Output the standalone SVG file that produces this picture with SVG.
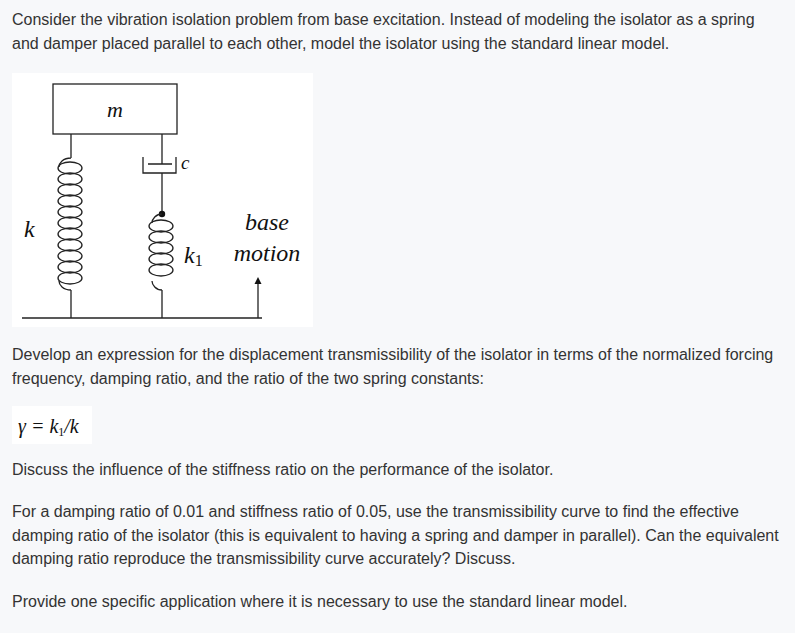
<svg xmlns="http://www.w3.org/2000/svg" width="795" height="633" viewBox="0 0 795 633">
<style>
.t{font-family:"Liberation Sans",Arial,sans-serif;font-size:16px;fill:#333}
.m{font-family:"Liberation Serif","Times New Roman",serif;font-style:italic;fill:#111}
.l{stroke:#222;stroke-width:1.3;fill:none}
</style>
<defs>
<g id="coil"><ellipse cx="0" cy="0" rx="12" ry="6" class="l"/></g>
</defs>
<rect width="795" height="633" fill="#f7f8fa"/>
<g id="text">
<text class="t" x="12" y="25">Consider the vibration isolation problem from base excitation. Instead of modeling the isolator as a spring</text>
<text class="t" x="12" y="49">and damper placed parallel to each other, model the isolator using the standard linear model.</text>
<text class="t" x="12" y="360">Develop an expression for the displacement transmissibility of the isolator in terms of the normalized forcing</text>
<text class="t" x="12" y="384">frequency, damping ratio, and the ratio of the two spring constants:</text>
<text class="t" x="12" y="475">Discuss the influence of the stiffness ratio on the performance of the isolator.</text>
<text class="t" x="12" y="517">For a damping ratio of 0.01 and stiffness ratio of 0.05, use the transmissibility curve to find the effective</text>
<text class="t" x="12" y="541">damping ratio of the isolator (this is equivalent to having a spring and damper in parallel). Can the equivalent</text>
<text class="t" x="12" y="564">damping ratio reproduce the transmissibility curve accurately? Discuss.</text>
<text class="t" x="12" y="607">Provide one specific application where it is necessary to use the standard linear model.</text>
</g>
<g id="gamma">
<rect x="12" y="406" width="80" height="38" fill="#fff"/>
<text class="m" x="18" y="433" font-size="20">γ = k<tspan font-size="12" dy="3" font-style="normal">1</tspan><tspan dy="-3">/k</tspan></text>
</g>
<g id="figure">
<rect x="12" y="73" width="301" height="254" fill="#fff"/>
</g>
<g id="mass"><rect x="53" y="84" width="124" height="50" class="l" fill="#fff"/>
<text class="m" x="115" y="117" font-size="22" text-anchor="middle">m</text></g>
<g id="springK">
<path class="l" d="M71 134V158M71 158c-8 0-12 5-12 9M71 290c-8 0-12-5-12-9M71 290V318"/>
<use href="#coil" x="70" y="168"/><use href="#coil" x="70" y="179"/><use href="#coil" x="70" y="190"/><use href="#coil" x="70" y="201"/><use href="#coil" x="70" y="212"/><use href="#coil" x="70" y="223"/><use href="#coil" x="70" y="234"/><use href="#coil" x="70" y="245"/><use href="#coil" x="70" y="256"/><use href="#coil" x="70" y="267"/><use href="#coil" x="70" y="278"/>
<text class="m" x="24" y="237" font-size="24">k</text></g>
<g id="damper"><path class="l" d="M162 134V164M148 164H172M143 157V173H176V157M162 173V214"/>
<text class="m" x="181" y="169" font-size="19">c</text></g>
<g id="springK1">
<circle cx="162" cy="214" r="3.2" fill="#111"/>
<path class="l" d="M162 214c-6 0-10 5-10 9M162 290c-6 0-10-5-10-9M162 290V318"/>
<use href="#coil" x="161" y="226"/><use href="#coil" x="161" y="237"/><use href="#coil" x="161" y="248"/><use href="#coil" x="161" y="259"/><use href="#coil" x="161" y="270"/>
<text class="m" x="184" y="263" font-size="24">k<tspan font-size="16" font-style="normal" dy="3">1</tspan></text></g>
<g id="base"><path class="l" d="M22 318H262"/>
<path class="l" d="M258 318V282"/><path d="M258 277l-3.5 7h7z" fill="#111"/>
<text class="m" x="267" y="230" font-size="24" text-anchor="middle">base</text>
<text class="m" x="267" y="261" font-size="24" text-anchor="middle">motion</text></g>
</svg>
